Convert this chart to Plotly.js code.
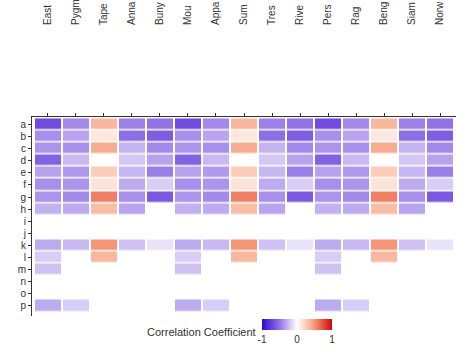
<!DOCTYPE html>
<html>
<head>
<meta charset="utf-8">
<script src="https://cdn.plot.ly/plotly-3.0.1.min.js"></script>
<style>
  html, body { margin: 0; padding: 0; background: #fff; }
  #chart { width: 474px; height: 355px; }
</style>
</head>
<body>
<div id="chart"></div>
<script>
// Column labels as visible on the top axis
const columns = [
  'East', 'Pygm', 'Tape', 'Anna', 'Buny',
  'Mou', 'Appa', 'Sum', 'Tres', 'Rive',
  'Pers', 'Rag', 'Beng', 'Siam', 'Norw'
];
// Row labels
const rows = ['a','b','c','d','e','f','g','h','i','j','k','l','m','n','o','p'];

// Correlation values (null = no cell)
const corr = [
  [-0.68,-0.42,0.35,-0.45,-0.50, -0.68,-0.42,0.35,-0.45,-0.50, -0.68,-0.42,0.35,-0.45,-0.50],
  [-0.40,-0.32,0.12,-0.52,-0.60, -0.40,-0.32,0.12,-0.52,-0.60, -0.40,-0.32,0.12,-0.52,-0.60],
  [-0.38,-0.40,0.40,-0.27,-0.42, -0.38,-0.40,0.40,-0.27,-0.42, -0.38,-0.40,0.40,-0.27,-0.42],
  [-0.58,-0.25,0.00,-0.20,-0.33, -0.58,-0.25,0.00,-0.20,-0.33, -0.58,-0.25,0.00,-0.20,-0.33],
  [-0.33,-0.36,0.25,-0.26,-0.46, -0.33,-0.36,0.25,-0.26,-0.46, -0.33,-0.36,0.25,-0.26,-0.46],
  [-0.40,-0.38,0.14,-0.30,-0.18, -0.40,-0.38,0.14,-0.30,-0.18, -0.40,-0.38,0.14,-0.30,-0.18],
  [-0.38,-0.42,0.58,-0.40,-0.62, -0.38,-0.42,0.58,-0.40,-0.62, -0.38,-0.42,0.58,-0.40,-0.62],
  [-0.28,-0.30,0.32,-0.32,null,  -0.28,-0.30,0.32,-0.32,null,  -0.28,-0.30,0.32,-0.32,null],
  [null,null,null,null,null, null,null,null,null,null, null,null,null,null,null],
  [null,null,null,null,null, null,null,null,null,null, null,null,null,null,null],
  [-0.30,-0.25,0.50,-0.22,-0.10, -0.30,-0.25,0.50,-0.22,-0.10, -0.30,-0.25,0.50,-0.22,-0.10],
  [-0.18,null,0.35,null,null, -0.18,null,0.35,null,null, -0.18,null,0.35,null,null],
  [-0.22,null,null,null,null, -0.22,null,null,null,null, -0.22,null,null,null,null],
  [null,null,null,null,null, null,null,null,null,null, null,null,null,null,null],
  [null,null,null,null,null, null,null,null,null,null, null,null,null,null,null],
  [-0.30,-0.18,null,null,null, -0.30,-0.18,null,null,null, -0.30,-0.18,null,null,null]
];

const colorbarTicks = [-1, 0, 1];

const colorscale = [
  [0.000, 'rgb(40,10,210)'],
  [0.125, 'rgb(100,60,220)'],
  [0.250, 'rgb(145,115,230)'],
  [0.375, 'rgb(200,185,242)'],
  [0.500, 'rgb(255,255,255)'],
  [0.625, 'rgb(252,205,185)'],
  [0.750, 'rgb(245,150,120)'],
  [0.875, 'rgb(230,80,60)'],
  [1.000, 'rgb(200,10,10)']
];

const W = 474, H = 355;
const L = 32, R = 456, T = 117, B = 316;
const pw = R - L, ph = B - T;

const trace = {
  type: 'heatmap',
  x: columns,
  y: rows,
  z: corr,
  zmin: -1, zmax: 1,
  colorscale: colorscale,
  xgap: 2, ygap: 1.5,
  hoverongaps: false,
  colorbar: {
    orientation: 'h',
    lenmode: 'pixels', len: 70,
    thickness: 11,
    xanchor: 'left', x: (262 - L) / pw,
    yanchor: 'top', y: (B - 319) / ph,
    xpad: 0, ypad: 0,
    outlinewidth: 0,
    tickvals: colorbarTicks,
    ticktext: colorbarTicks.map(String),
    ticks: '',
    tickfont: { family: 'Liberation Sans, Arial, sans-serif', size: 10, color: '#333' }
  }
};

const layout = {
  width: W, height: H,
  margin: { l: L, r: W - R, t: T, b: H - B, pad: 0, autoexpand: false },
  paper_bgcolor: '#fff', plot_bgcolor: '#fff',
  font: { family: 'Liberation Sans, Arial, sans-serif', size: 10, color: '#333' },
  xaxis: {
    type: 'category',
    side: 'top',
    range: [-0.57, 14.57],
    tickangle: -90,
    ticks: 'outside', ticklen: 3, tickcolor: '#333',
    showline: true, linecolor: '#333', linewidth: 1,
    showgrid: false, zeroline: false,
    automargin: false,
    ticklabelstandoff: 86,
    tickfont: { size: 10, color: '#333' }
  },
  yaxis: {
    type: 'category',
    range: [15.83, -0.62],
    ticks: 'outside', ticklen: 3, tickcolor: '#333',
    showline: true, linecolor: '#333', linewidth: 1,
    showgrid: false, zeroline: false,
    automargin: false,
    tickfont: { size: 10, color: '#333' }
  },
  annotations: [{
    text: 'Correlation Coefficient',
    xref: 'paper', yref: 'paper',
    x: (258 - L) / pw, xanchor: 'right',
    y: (B - 332) / ph, yanchor: 'middle',
    showarrow: false,
    font: { size: 11, color: '#333' }
  }]
};

Plotly.newPlot('chart', [trace], layout, { displayModeBar: false, staticPlot: true });
</script>
</body>
</html>
